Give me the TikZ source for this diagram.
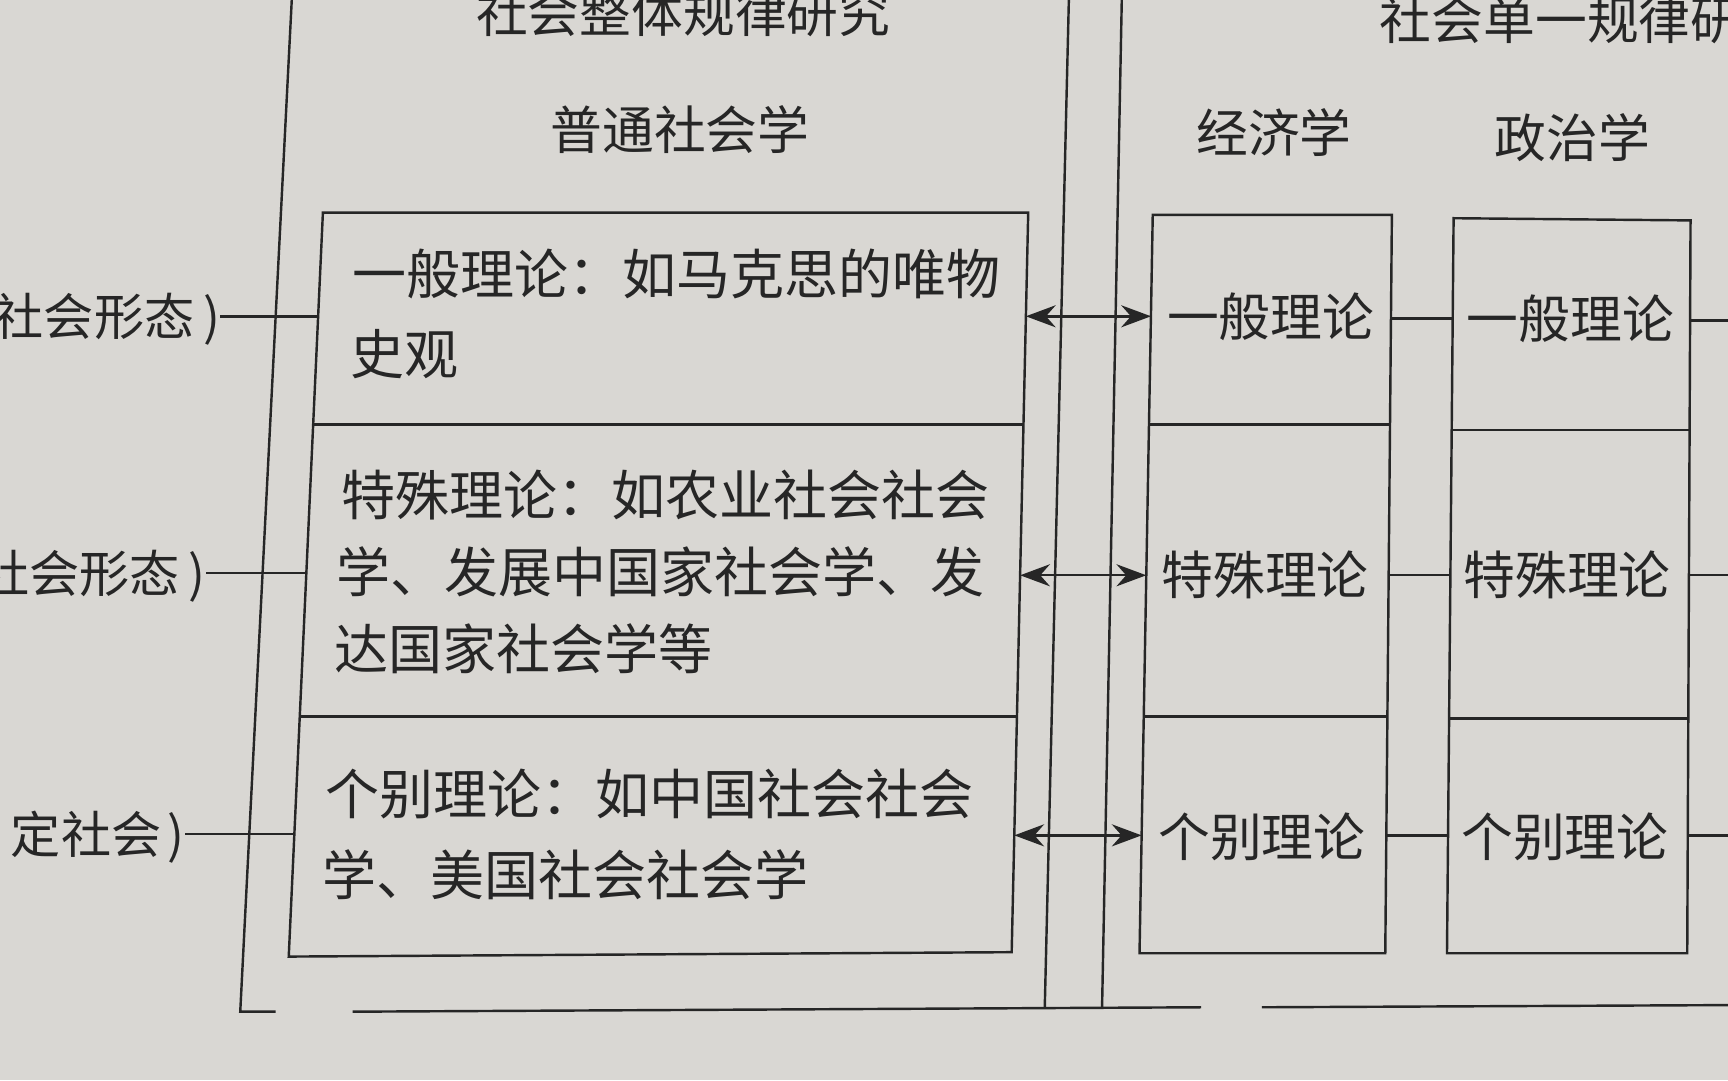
\documentclass[tikz,border=0pt]{standalone}
\usepackage{fontspec}
\newfontfamily\cjk{Noto Sans CJK SC}
\usetikzlibrary{arrows.meta,calc}
\definecolor{paper}{HTML}{D9D7D3}
\definecolor{ink}{HTML}{262626}
\tikzset{
  ln/.style={draw=ink, line width=2.2pt},
  txt/.style={font=\cjk\fontsize{47pt}{71pt}\selectfont, text=ink, inner sep=0pt, text height=41pt, text depth=6pt},
  boxtxt/.style={txt, font=\cjk\fontsize{49pt}{71pt}\selectfont, anchor=west},
  lbl/.style={txt, font=\cjk\fontsize{45.5pt}{71pt}\selectfont, anchor=east},
  arr/.style={ln, {Stealth[length=27pt,width=20pt]}-{Stealth[length=27pt,width=20pt]}}
}
\begin{document}
\begin{tikzpicture}[x=1pt,y=-1pt]
\useasboundingbox (0,0) rectangle (1568,980);
\fill[paper] (0,0) rectangle (1568,980);

% outer frame and separators
\coordinate (fT) at (265,-5);
\coordinate (fB) at (218,918);
\coordinate (fBr) at (250,918);
\draw[ln] (fT) -- (fB) -- (fBr);
\coordinate (b1) at (320,918);
\coordinate (b2) at (1090,914);
\coordinate (b3) at (1145,914);
\coordinate (b4) at (1572,912);
\draw[ln] (b1) -- (b2);
\draw[ln] (b3) -- (b4);
\coordinate (mAT) at (970,-5);
\coordinate (mAB) at (948,915);
\coordinate (mBT) at (1018,-5);
\coordinate (mBB) at (1000,915);
\draw[ln] (mAT) -- (mAB);
\draw[ln] (mBT) -- (mBB);

% left big box
\coordinate (LTL) at (293,193);
\coordinate (LTR) at (933,193);
\coordinate (LBR) at (918,864);
\coordinate (LBL) at (262,868);
\draw[ln] (LTL) -- (LTR) -- (LBR) -- (LBL) -- cycle;
\coordinate (Ld1l) at (284.2,385);
\coordinate (Ld1r) at (928.7,385);
\coordinate (Ld2l) at (272,650);
\coordinate (Ld2r) at (922.8,650);
\draw[ln] (Ld1l) -- (Ld1r);
\draw[ln] (Ld2l) -- (Ld2r);

% economics box
\coordinate (ETL) at (1046,195);
\coordinate (ETR) at (1263,195);
\coordinate (EBR) at (1257,865);
\coordinate (EBL) at (1034,865);
\draw[ln] (ETL) -- (ETR) -- (EBR) -- (EBL) -- cycle;
\coordinate (Ed1l) at (1042.6,385);
\coordinate (Ed1r) at (1261.3,385);
\coordinate (Ed2l) at (1037.8,650);
\coordinate (Ed2r) at (1258.9,650);
\draw[ln] (Ed1l) -- (Ed1r);
\draw[ln] (Ed2l) -- (Ed2r);

% politics box
\coordinate (PTL) at (1319,198);
\coordinate (PTR) at (1534,200);
\coordinate (PBR) at (1531,865);
\coordinate (PBL) at (1313,865);
\draw[ln] (PTL) -- (PTR) -- (PBR) -- (PBL) -- cycle;
\coordinate (Pd1l) at (1317.3,390);
\coordinate (Pd1r) at (1533.1,390);
\coordinate (Pd2l) at (1314.9,652);
\coordinate (Pd2r) at (1532,652);
\draw[ln] (Pd1l) -- (Pd1r);
\draw[ln] (Pd2l) -- (Pd2r);

% titles
\node[txt] (t1) at (620,12) {社会整体规律研究};
\node[txt, anchor=west] (t2) at (1252,18) {社会单一规律研究};
\node[txt] (h1) at (617,118) {普通社会学};
\node[txt] (h2) at (1156,121) {经济学};
\node[txt] (h3) at (1427,125) {政治学};

% left box texts
\node[boxtxt] (r1a) at (320,250) {一般理论：如马克思的唯物};
\node[boxtxt] (r1b) at (318,322) {史观};
\node[boxtxt] (r2a) at (310,450) {特殊理论：如农业社会社会};
\node[boxtxt] (r2b) at (305,520) {学、发展中国家社会学、发};
\node[boxtxt] (r2c) at (303,590) {达国家社会学等};
\node[boxtxt] (r3a) at (295,722) {个别理论：如中国社会社会};
\node[boxtxt] (r3b) at (292,795) {学、美国社会社会学};

% right box texts
\node[txt] (e1) at (1153,288) {一般理论};
\node[txt] (e2) at (1148,522) {特殊理论};
\node[txt] (e3) at (1145,760) {个别理论};
\node[txt] (p1) at (1425,290) {一般理论};
\node[txt] (p2) at (1422,522) {特殊理论};
\node[txt] (p3) at (1420,760) {个别理论};

% left labels
\node[lbl] (l1) at (200,287) {社会形态\kern8pt)};
\node[lbl] (l2) at (187,520) {社会形态\kern8pt)};
\node[lbl] (l3) at (168,757) {定社会\kern6pt)};
\coordinate (l1e) at (288.7,287);
\coordinate (l2e) at (278,520);
\coordinate (l3e) at (267,757);
\draw[ln] (l1.east) -- (l1e);
\draw[ln] (l2.east) -- (l2e);
\draw[ln] (l3.east) -- (l3e);

% arrows between general sociology and economics
\coordinate (a1l) at (930.9,287);
\coordinate (a1r) at (1044.4,287);
\coordinate (a2l) at (925.7,522);
\coordinate (a2r) at (1040.1,522);
\coordinate (a3l) at (920.4,758);
\coordinate (a3r) at (1035.9,758);
\draw[arr] (a1l) -- (a1r);
\draw[arr] (a2l) -- (a2r);
\draw[arr] (a3l) -- (a3r);

% lines economics -> politics -> beyond
\coordinate (c1l) at (1262.2,289);
\coordinate (c1r) at (1318.2,289);
\coordinate (c2l) at (1260,522);
\coordinate (c2r) at (1316.1,522);
\coordinate (c3l) at (1258,758);
\coordinate (c3r) at (1314,758);
\draw[ln] (c1l) -- (c1r);
\draw[ln] (c2l) -- (c2r);
\draw[ln] (c3l) -- (c3r);
\coordinate (d1l) at (1533.6,291);
\coordinate (d1r) at (1572,291);
\coordinate (d2l) at (1532.5,522);
\coordinate (d2r) at (1572,522);
\coordinate (d3l) at (1531.5,758);
\coordinate (d3r) at (1572,758);
\draw[ln] (d1l) -- (d1r);
\draw[ln] (d2l) -- (d2r);
\draw[ln] (d3l) -- (d3r);
\end{tikzpicture}
\end{document}
